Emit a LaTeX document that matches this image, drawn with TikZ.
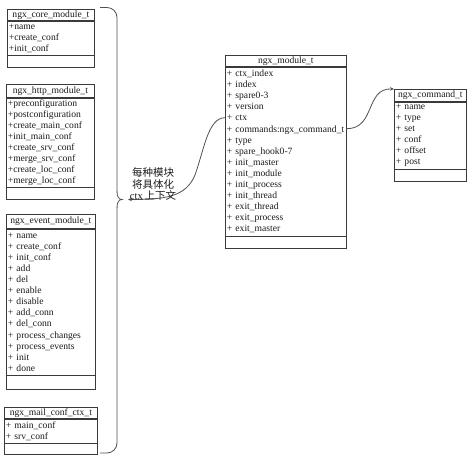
\documentclass[tikz,border=0pt]{standalone}
\usepackage{fontspec}
\setmainfont{Liberation Serif}
\newfontfamily\cjk{Noto Sans CJK SC}
\usetikzlibrary{arrows.meta}
\definecolor{boxline}{HTML}{3A3A3A}
\definecolor{connline}{HTML}{505050}
\definecolor{txt}{HTML}{1A1A1A}
\newcommand\itemfont{\fontsize{9.6pt}{11.1pt}\selectfont\hyphenpenalty=10000\exhyphenpenalty=10000}
\begin{document}
\begin{tikzpicture}[x=1pt,y=-1pt,
  ttl/.style={draw=boxline, line width=0.7pt, anchor=north west, inner xsep=1.5pt, inner ysep=0pt, font=\itemfont, align=center, text=txt},
  body/.style={draw=boxline, line width=0.7pt, anchor=north west, inner xsep=1.5pt, inner ysep=0pt, font=\itemfont, align=left, text=txt},
  foot/.style={draw=boxline, line width=0.7pt, anchor=north west, inner sep=0pt},
  conn/.style={draw=connline, line width=0.8pt, -{Stealth[length=4pt,width=3.5pt]}},
  bracepath/.style={draw=connline, line width=0.8pt},
  lbl/.style={align=center, text=txt, font=\fontsize{10.5pt}{11.6pt}\selectfont}]
\useasboundingbox (0,0) rectangle (474,456);
% ngx_core_module_t
\node[ttl, text width=84pt, minimum height=11] (coreT) at (7,9) {ngx\_core\_module\_t};
\node[body, text width=84pt, minimum height=34] (coreB) at (coreT.south west) {+name\\+create\_conf\\+init\_conf};
\node[foot, minimum width=87, minimum height=12] (coreF) at (coreB.south west) {};
% ngx_http_module_t
\node[ttl, text width=85pt, minimum height=13] (httpT) at (6,84) {ngx\_http\_module\_t};
\node[body, text width=85pt, minimum height=89] (httpB) at (httpT.south west) {+preconfiguration\\+postconfiguration\\+create\_main\_conf\\+init\_main\_conf\\+create\_srv\_conf\\+merge\_srv\_conf\\+create\_loc\_conf\\+merge\_loc\_conf};
\node[foot, minimum width=88, minimum height=12] (httpF) at (httpB.south west) {};
% ngx_event_module_t
\node[ttl, text width=86pt, minimum height=14] (evT) at (6,214) {ngx\_event\_module\_t};
\node[body, text width=86pt, minimum height=146] (evB) at (evT.south west) {+ name\\+ create\_conf\\+ init\_conf\\+ add\\+ del\\+ enable\\+ disable\\+ add\_conn\\+ del\_conn\\+ process\_changes\\+ process\_events\\+ init\\+ done};
\node[foot, minimum width=89, minimum height=14] (evF) at (evB.south west) {};
% ngx_mail_conf_ctx_t
\node[ttl, text width=90pt, minimum height=11] (mailT) at (4,407) {ngx\_mail\_conf\_ctx\_t};
\node[body, text width=90pt, minimum height=24] (mailB) at (mailT.south west) {+ main\_conf\\+ srv\_conf};
\node[foot, minimum width=93, minimum height=11] (mailF) at (mailB.south west) {};
% ngx_module_t
\node[ttl, text width=118pt, minimum height=11] (modT) at (225,55) {ngx\_module\_t};
\node[body, text width=118pt, minimum height=169] (modB) at (modT.south west) {+ ctx\_index\\+ index\\+ spare0-3\\+ version\\+ ctx\\\mbox{+ commands:ngx\_command\_t}\\+ type\\+ spare\_hook0-7\\+ init\_master\\+ init\_module\\+ init\_process\\+ init\_thread\\+ exit\_thread\\+ exit\_process\\+ exit\_master};
\node[foot, minimum width=121, minimum height=12] (modF) at (modB.south west) {};
% ngx_command_t
\node[ttl, text width=69pt, minimum height=12] (cmdT) at (394,89) {ngx\_command\_t};
\node[body, text width=69pt, minimum height=67] (cmdB) at (cmdT.south west) {+ name\\+ type\\+ set\\+ conf\\+ offset\\+ post};
\node[foot, minimum width=72, minimum height=12] (cmdF) at (cmdB.south west) {};
% brace grouping the left boxes
\draw[bracepath, rounded corners=10pt] (100,7.5) -- (117,7.5) -- (117,192);
\draw[bracepath] (117,191.5) .. controls (117,197) and (119,199.5) .. (122,199.5)
  .. controls (119,199.5) and (117,202) .. (117,207.5);
\draw[bracepath, rounded corners=10pt] (117,207) -- (117,453) -- (100,453);
\coordinate (bracetip) at (128,199.5);
% connectors
\coordinate (ctxpt) at ([yshift=-51pt]modB.north west);
\coordinate (cmdpt) at ([yshift=-62pt]modB.north east);
\draw[conn] (ctxpt) .. controls +(-17,0) and +(9,-25) .. (195,175)
  .. controls +(-9,22) and +(37,0) .. (bracetip);
\draw[conn] (cmdpt) .. controls +(29,0) and +(-29,-1) .. (cmdT.north west);
% label
\node[lbl] (note) at (153,184) {{\cjk 每种模块}\\{\cjk 将具体化}\\ctx\,{\cjk 上下文}};
\end{tikzpicture}
\end{document}
